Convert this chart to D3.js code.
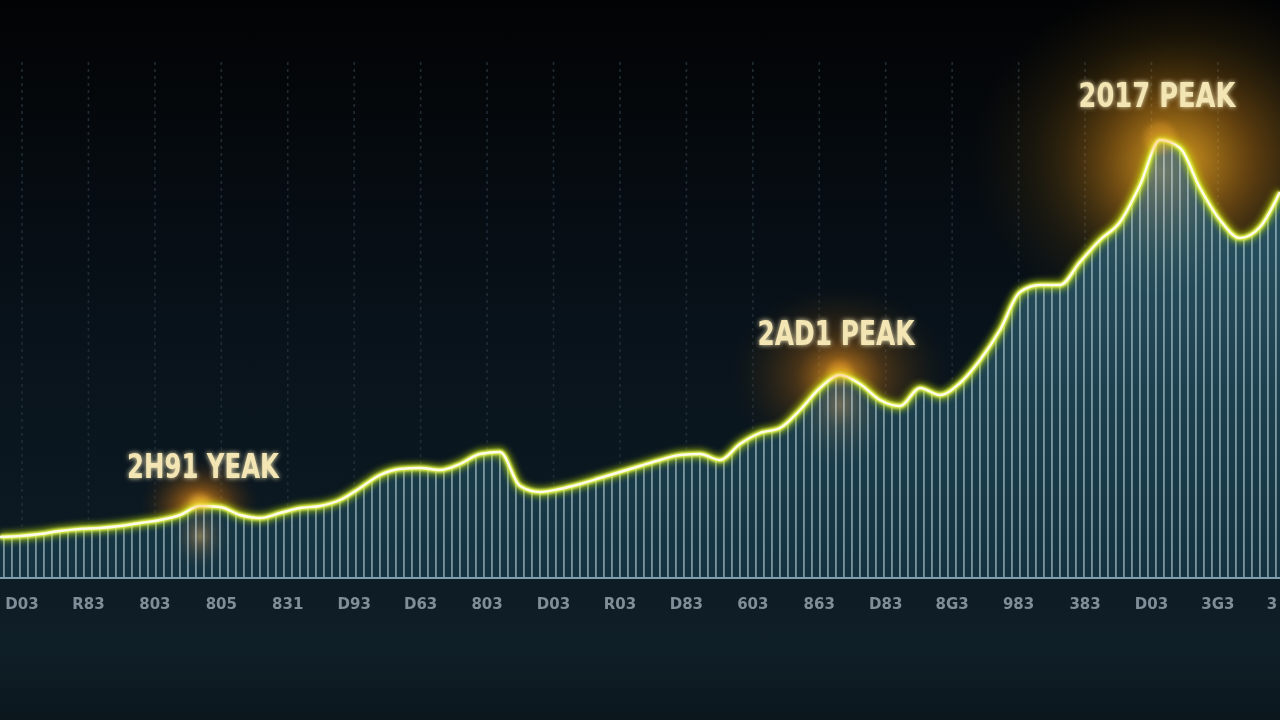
<!DOCTYPE html>
<html>
<head>
<meta charset="utf-8">
<script src="https://cdn.jsdelivr.net/npm/d3@7"></script>
<style>
  html, body { margin: 0; padding: 0; background: #05080b; overflow: hidden; }
  svg { display: block; }
</style>
</head>
<body>
<svg id="chart" width="1280" height="720"></svg>
<script>
// ---------------- data ----------------
const tickLabels = ["D03","R83","803","805","831","D93","D63","803","D03","R03",
                    "D83","603","863","D83","8G3","983","383","D03","3G3","3"];
const values = [41,42,44,47,49,50,52,55,58,63,
                72,71,63,60,65,70,72,78,90,103,
                109,110,108,114,124,126,92,86,89,94,
                100,106,112,118,123,124,118,134,145,150,
                168,190,203,194,178,172,190,183,195,218,
                248,286,293,293,316,338,356,393,438,430,
                390,358,340,351,386];
const peakIndex = [10, 42, 58];
const peakLabels = ["2H91 YEAK", "2AD1 PEAK", "2017 PEAK"];

// ---------------- layout ----------------
const W = 1280, H = 720;
const baseY = 578, topY = 58;
const svg = d3.select("#chart");
const defs = svg.append("defs");

const xData = d3.scaleLinear().domain([0, values.length - 1]).range([0, W]);
const y = d3.scaleLinear().domain([0, 520]).range([baseY, topY]);
const xTick = d3.scaleLinear().domain([0, tickLabels.length - 1]).range([22, 22 + 66.44 * (tickLabels.length - 1)]);

// background
const bg = defs.append("linearGradient").attr("id", "bg").attr("x1", 0).attr("y1", 0).attr("x2", 0).attr("y2", 1);
[[0, "#020304"], [0.12, "#04070a"], [0.45, "#08121a"], [0.8, "#0d1b24"], [0.9, "#0f1f28"], [1, "#0b161d"]]
  .forEach(([o, c]) => bg.append("stop").attr("offset", o).attr("stop-color", c));
svg.append("rect").attr("width", W).attr("height", H).attr("fill", "url(#bg)");

// glows
function radial(id, stops) {
  const g = defs.append("radialGradient").attr("id", id);
  stops.forEach(([o, c, a]) => g.append("stop").attr("offset", o).attr("stop-color", c).attr("stop-opacity", a));
}
radial("glowBig", [[0, "#ffb020", 0.75], [0.35, "#c67a10", 0.45], [0.7, "#6a4a08", 0.2], [1, "#3a2a05", 0]]);
radial("glowMid", [[0, "#ffa020", 0.8], [0.4, "#b56a10", 0.35], [1, "#402a05", 0]]);
radial("glowSmall", [[0, "#ffc040", 0.95], [0.35, "#e08010", 0.5], [1, "#402005", 0]]);

// grid lines
svg.append("g").selectAll("line").data(tickLabels).join("line")
  .attr("x1", (d, i) => xTick(i)).attr("x2", (d, i) => xTick(i))
  .attr("y1", 62).attr("y2", baseY - 2)
  .attr("stroke", "#1f2c36").attr("stroke-width", 1.6)
  .attr("stroke-dasharray", "3 4");

// glows behind
const glowSpec = [["glowSmall", 60, 48], ["glowMid", 110, 90], ["glowBig", 210, 180]];
const glowG = svg.append("g");
peakIndex.forEach((pi, k) => {
  glowG.append("ellipse")
    .attr("cx", xData(pi) + (k === 2 ? 20 : 0)).attr("cy", y(values[pi]) + (k === 2 ? 20 : 0))
    .attr("rx", glowSpec[k][1]).attr("ry", glowSpec[k][2])
    .attr("fill", `url(#${glowSpec[k][0]})`);
});

// area
const areaGrad = defs.append("linearGradient").attr("id", "areaGrad")
  .attr("gradientUnits", "userSpaceOnUse").attr("x1", 0).attr("y1", 130).attr("x2", 0).attr("y2", baseY);
[[0, "#2c5866"], [0.5, "#1f4351"], [1, "#14323f"]]
  .forEach(([o, c]) => areaGrad.append("stop").attr("offset", o).attr("stop-color", c));

const stripes = defs.append("pattern").attr("id", "stripes")
  .attr("patternUnits", "userSpaceOnUse").attr("width", 8).attr("height", 10);
stripes.append("rect").attr("x", 3).attr("y", 0).attr("width", 1.8).attr("height", 10)
  .attr("fill", "#bcd6de").attr("fill-opacity", 0.6);

const area = d3.area().x((d, i) => xData(i)).y0(baseY).y1(d => y(d)).curve(d3.curveMonotoneX);
svg.append("path").datum(values).attr("d", area).attr("fill", "url(#areaGrad)");
svg.append("path").datum(values).attr("d", area).attr("fill", "url(#stripes)");

// warm light over peaks (screen)
const warmG = svg.append("g").style("mix-blend-mode", "screen");
peakIndex.forEach((pi, k) => {
  warmG.append("ellipse")
    .attr("cx", xData(pi)).attr("cy", y(values[pi]) + 30)
    .attr("rx", glowSpec[k][1] * 0.45).attr("ry", glowSpec[k][2] * 0.7)
    .attr("fill", `url(#${glowSpec[k][0]})`).attr("opacity", 0.45);
});

// baseline
svg.append("line").attr("x1", 0).attr("x2", W).attr("y1", baseY).attr("y2", baseY)
  .attr("stroke", "#7f9fae").attr("stroke-width", 2);

// line with glow
const blur = defs.append("filter").attr("id", "blur").attr("x", "-10%").attr("y", "-50%").attr("width", "120%").attr("height", "200%");
blur.append("feGaussianBlur").attr("stdDeviation", 3);
const blur2 = defs.append("filter").attr("id", "blur2").attr("x", "-10%").attr("y", "-50%").attr("width", "120%").attr("height", "200%");
blur2.append("feGaussianBlur").attr("stdDeviation", 1.2);

const line = d3.line().x((d, i) => xData(i)).y(d => y(d)).curve(d3.curveMonotoneX);
svg.append("path").datum(values).attr("d", line).attr("fill", "none")
  .attr("stroke", "#c8ea10").attr("stroke-width", 9).attr("stroke-opacity", 0.7).attr("filter", "url(#blur)");
svg.append("path").datum(values).attr("d", line).attr("fill", "none")
  .attr("stroke", "#e8f850").attr("stroke-width", 5).attr("filter", "url(#blur2)");
svg.append("path").datum(values).attr("d", line).attr("fill", "none")
  .attr("stroke", "#fffbea").attr("stroke-width", 2.4);

// bright spot at peaks
peakIndex.forEach((pi, k) => {
  svg.append("circle").attr("cx", xData(pi)).attr("cy", y(values[pi]) - 2)
    .attr("r", [10, 12, 16][k]).attr("fill", "#ffb030").attr("opacity", 0.35).attr("filter", "url(#blur)");
});

// tick labels
const tb = defs.append("filter").attr("id", "tblur");
tb.append("feGaussianBlur").attr("stdDeviation", 0.5);
svg.append("g").selectAll("text").data(tickLabels).join("text")
  .attr("x", (d, i) => Math.min(xTick(i), W - 8)).attr("y", 609)
  .attr("text-anchor", "middle")
  .attr("font-family", "DejaVu Sans")
  .attr("font-weight", "bold").attr("font-size", 15)
  .attr("fill", "#808e98").attr("filter", "url(#tblur)")
  .text(d => d);

// peak labels
const lblGlow = defs.append("filter").attr("id", "lglow").attr("x", "-20%").attr("y", "-50%").attr("width", "140%").attr("height", "200%");
lblGlow.append("feGaussianBlur").attr("in", "SourceGraphic").attr("stdDeviation", 2.5).attr("result", "b");
const fm = lblGlow.append("feMerge");
fm.append("feMergeNode").attr("in", "b");
fm.append("feMergeNode").attr("in", "SourceGraphic");

const lblPos = [[203, 478, 152], [836, 345, 157], [1157, 107, 157]];
peakLabels.forEach((t, k) => {
  svg.append("text")
    .attr("x", lblPos[k][0]).attr("y", lblPos[k][1])
    .attr("text-anchor", "middle")
    .attr("font-family", "DejaVu Sans Condensed, DejaVu Sans")
    .attr("font-weight", "bold").attr("font-size", 33)
    .attr("textLength", lblPos[k][2]).attr("lengthAdjust", "spacingAndGlyphs")
    .attr("fill", "#f3e6b4").attr("filter", "url(#lglow)")
    .text(t);
});
</script>
</body>
</html>
